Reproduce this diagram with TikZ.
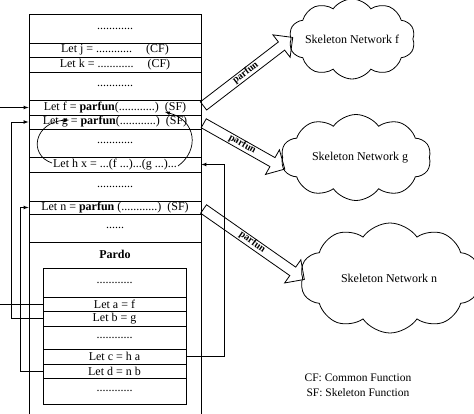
\documentclass[tikz,border=0pt]{standalone}
\usepackage{fontspec}
\setmainfont{Liberation Serif}
\usetikzlibrary{shapes.symbols,shapes.arrows,calc}

\begin{document}
\begin{tikzpicture}[x=1pt, y=-1pt, >=latex,
  cell/.style={draw, line width=0.9pt, minimum width=172pt, inner sep=0pt, font=\fontsize{12}{14}\selectfont},
  subcell/.style={cell, minimum width=143pt},
  link/.style={->, line width=0.7pt},
  bigarrow/.style={single arrow, draw, line width=0.8pt, single arrow head extend=9pt, inner xsep=0pt, inner ysep=2pt, text height=4.5pt, text depth=1pt, font=\fontsize{10}{10}\selectfont\bfseries},
  cloudy/.style={cloud, draw, line width=0.8pt, cloud puffs=10, cloud puff arc=110, cloud ignores aspect, inner sep=0pt},
  label/.style={font=\fontsize{12}{14}\selectfont}
]
\useasboundingbox (0,0) rectangle (474,414);

\node[cell, minimum height=29] (d1) at (115,28.5) {............};
\node[cell, minimum height=14] (rj) at (115,50) {Let j = ............\hspace{14pt}(CF)};
\node[cell, minimum height=15] (rk) at (115,64.5) {Let k = ............\hspace{14pt}(CF)};
\node[cell, minimum height=28] (d2) at (115,86) {............};
\node[cell, minimum height=15] (rf) at (115,107.5) {Let f = \textbf{parfun}(............)\enspace(SF)};
\node[cell, minimum height=14] (rg) at (115,122) {Let g = \textbf{parfun}(............)\enspace(SF)};
\node[cell, minimum height=28] (d3) at (115,143) {............};
\node[cell, minimum height=15] (rh) at (115,164.5) {Let h x = ...(f ...)...(g ...)...};
\node[cell, minimum height=29] (d4) at (115,186.5) {............};
\node[cell, minimum height=13] (rn) at (115,207.5) {Let n = \textbf{parfun} (............)\enspace(SF)};
\node[cell, minimum height=28] (d5) at (115,228) {......};
\node[cell, minimum height=183] (pardobox) at (115,333.5) {};
\node[label, font=\fontsize{12}{14}\selectfont\bfseries] (pardo) at (115,254) {Pardo};

\node[subcell, minimum height=29] (i1) at (114.5,282.5) {............};
\node[subcell, minimum height=14.5] (ra) at (114.5,304.25) {Let a = f};
\node[subcell, minimum height=14.5] (rb) at (114.5,318.75) {Let b = g};
\node[subcell, minimum height=23] (i2) at (114.5,337.5) {............};
\node[subcell, minimum height=15] (rc) at (114.5,356.5) {Let c = h a};
\node[subcell, minimum height=14] (rd) at (114.5,371) {Let d = n b};
\node[subcell, minimum height=26] (i3) at (114.5,391) {............};

\node[cloudy, minimum width=126, minimum height=80] (cf) at (352,39) {};
\node[cloudy, minimum width=150, minimum height=86] (cg) at (356,157.5) {};
\node[cloudy, minimum width=180, minimum height=110] (cn) at (390,278) {};
\node[label] (tf) at (352,39) {Skeleton Network f};
\node[label] (tg) at (360,158) {Skeleton Network g};
\node[label] (tn) at (389,278) {Skeleton Network n};

\path let \p1=($(cf.west)-(rf.east)$), \n1={veclen(\x1,\y1)} in
  (rf.east) -- (cf.west) node[midway, sloped, bigarrow, minimum height=\n1] (af) {parfun};
\path let \p1=($(cg.188)-(rg.east)$), \n1={veclen(\x1,\y1)} in
  (rg.east) -- (cg.188) node[midway, sloped, bigarrow, minimum height=\n1] (ag) {parfun};
\path let \p1=($(cn.west)-(rn.east)$), \n1={veclen(\x1,\y1)} in
  (rn.east) -- (cn.west) node[midway, sloped, bigarrow, minimum height=\n1] (an) {parfun};

\draw[link] (ra.west) -- ++(-46,0) |- (rf.west);
\draw[link] (rb.west) -- ++(-31,0) |- (rg.west);
\draw[link] (rd.west) -- ++(-22,0) |- (rn.west);
\draw[link] (rc.east) -- ++(38,0) |- (rh.east);

\coordinate (hleft) at (52,163);
\coordinate (gname) at (69,120);
\coordinate (hright) at (178,166);
\coordinate (fargs) at (165,112);
\draw[link] (hleft) .. controls (28,155) and (34,122) .. (gname);
\draw[link] (hright) .. controls (200,150) and (196,120) .. (fargs);

\node[align=center, font=\fontsize{11.5}{15}\selectfont] (legend) at (358,385)
  {CF: Common Function\\SF: Skeleton Function};
\end{tikzpicture}
\end{document}
